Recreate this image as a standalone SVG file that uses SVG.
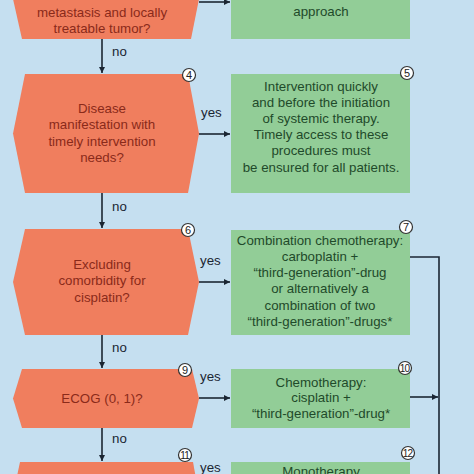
<svg xmlns="http://www.w3.org/2000/svg" width="474" height="474" viewBox="0 0 474 474">
<defs>
<marker id="ah" viewBox="0 0 10 10" refX="10" refY="5" markerWidth="6" markerHeight="6" markerUnits="userSpaceOnUse" orient="auto">
<path d="M0,0 L10,5 L0,10 z" fill="#1b2633"/>
</marker>
<style>
.hex{fill:#f07e5e}
.box{fill:#92cd97}
.ht{font-family:"Liberation Sans",Arial,sans-serif;font-size:13.3px;fill:#8a2a1a;text-anchor:middle}
.bt{font-family:"Liberation Sans",Arial,sans-serif;font-size:13.3px;fill:#1f4a2a;text-anchor:middle}
.lbl{font-family:"Liberation Sans",Arial,sans-serif;font-size:13.3px;fill:#1b2633}
.num circle{fill:#ffffff;stroke:#333;stroke-width:1.2}
.num text{font-family:"Liberation Sans",Arial,sans-serif;font-size:11px;fill:#222;text-anchor:middle}
.num text.two{font-size:10px;letter-spacing:-0.8px}
.c{stroke:#1b2633;stroke-width:1.6;fill:none}
</style>
</defs>
<rect width="474" height="474" fill="#c5dff0"/>

<g id="connectors">
<line class="c" x1="199" y1="2" x2="230" y2="2" marker-end="url(#ah)"/>
<line class="c" x1="102" y1="39" x2="102" y2="73" marker-end="url(#ah)"/>
<line class="c" x1="199" y1="134" x2="230" y2="134" marker-end="url(#ah)"/>
<line class="c" x1="102" y1="193" x2="102" y2="228" marker-end="url(#ah)"/>
<line class="c" x1="199" y1="282" x2="230" y2="282" marker-end="url(#ah)"/>
<line class="c" x1="102" y1="335" x2="102" y2="368" marker-end="url(#ah)"/>
<line class="c" x1="199" y1="398" x2="230" y2="398" marker-end="url(#ah)"/>
<line class="c" x1="102" y1="428" x2="102" y2="461" marker-end="url(#ah)"/>
<line class="c" x1="410" y1="397" x2="438" y2="397" marker-end="url(#ah)"/>
<polyline class="c" points="410,257 439,257 439,480"/>
<text class="lbl" x="112" y="56">no</text>
<text class="lbl" x="201" y="117">yes</text>
<text class="lbl" x="112" y="211">no</text>
<text class="lbl" x="200" y="265">yes</text>
<text class="lbl" x="112" y="352">no</text>
<text class="lbl" x="200" y="381">yes</text>
<text class="lbl" x="112" y="443">no</text>
<text class="lbl" x="200" y="472">yes</text>
</g>

<g id="node3">
<polygon class="hex" points="22,-60 191,-60 199,-1 191,39 22,39 13,-1"/>
<text class="ht" x="102" y="16.5">metastasis and locally</text>
<text class="ht" x="102" y="32.5">treatable tumor?</text>
</g>

<g id="node3b">
<rect class="box" x="231" y="-40" width="179" height="79"/>
<text class="bt" x="321" y="15.5">approach</text>
</g>

<g id="node4">
<polygon class="hex" points="25,74 188,74 199,133.5 188,193 25,193 13,133.5"/>
<text class="ht" x="102" y="112.5">Disease</text>
<text class="ht" x="102" y="129">manifestation with</text>
<text class="ht" x="102" y="145.5">timely intervention</text>
<text class="ht" x="102" y="162">needs?</text>
<g class="num"><circle cx="189" cy="75" r="6.5"/><text x="189" y="79">4</text></g>
</g>

<g id="node5">
<rect class="box" x="231" y="74" width="179" height="119"/>
<text class="bt" x="321" y="90.5">Intervention quickly</text>
<text class="bt" x="321" y="106.7">and before the initiation</text>
<text class="bt" x="321" y="122.9">of systemic therapy.</text>
<text class="bt" x="321" y="139.1">Timely access to these</text>
<text class="bt" x="321" y="155.3">procedures must</text>
<text class="bt" x="321" y="171.5">be ensured for all patients.</text>
<g class="num"><circle cx="407" cy="73" r="6.5"/><text x="407" y="77">5</text></g>
</g>

<g id="node6">
<polygon class="hex" points="25,229 188,229 199,282 188,335 25,335 13,282"/>
<text class="ht" x="102" y="268.5">Excluding</text>
<text class="ht" x="102" y="285">comorbidity for</text>
<text class="ht" x="102" y="301.5">cisplatin?</text>
<g class="num"><circle cx="188" cy="230" r="6.5"/><text x="188" y="234">6</text></g>
</g>

<g id="node7">
<rect class="box" x="231" y="230" width="179" height="105"/>
<text class="bt" x="320" y="244.5">Combination chemotherapy:</text>
<text class="bt" x="320" y="260.8">carboplatin +</text>
<text class="bt" x="320" y="277.1">“third-generation”-drug</text>
<text class="bt" x="320" y="293.4">or alternatively a</text>
<text class="bt" x="320" y="309.7">combination of two</text>
<text class="bt" x="320" y="326">“third-generation”-drugs*</text>
<g class="num"><circle cx="406" cy="227" r="6.5"/><text x="406" y="231">7</text></g>
</g>

<g id="node9">
<polygon class="hex" points="22,369 192,369 199,398.5 192,428 22,428 13,398.5"/>
<text class="ht" x="102" y="402.5">ECOG (0, 1)?</text>
<g class="num"><circle cx="185" cy="370" r="6.5"/><text x="185" y="374">9</text></g>
</g>

<g id="node10">
<rect class="box" x="231" y="369" width="179" height="59"/>
<text class="bt" x="321" y="386.5">Chemotherapy:</text>
<text class="bt" x="321" y="402">cisplatin +</text>
<text class="bt" x="321" y="417.5">“third-generation”-drug*</text>
<g class="num"><circle cx="405" cy="368" r="6.5"/><text class="two" x="404.6" y="371.5">10</text></g>
</g>

<g id="node11">
<polygon class="hex" points="20,462 193,462 199,495 193,530 20,530 13,495"/>
<g class="num"><circle cx="185" cy="455" r="6.5"/><text class="two" x="184.6" y="458.5">11</text></g>
</g>

<g id="node12">
<rect class="box" x="231" y="462" width="179" height="60"/>
<text class="bt" x="321" y="476">Monotherapy</text>
<g class="num"><circle cx="408" cy="453" r="6.5"/><text class="two" x="407.6" y="456.5">12</text></g>
</g>
</svg>
